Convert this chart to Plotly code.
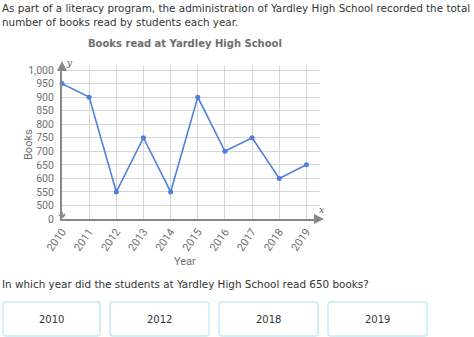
import plotly.graph_objects as go

years = [2010, 2011, 2012, 2013, 2014, 2015, 2016, 2017, 2018, 2019]
books = [950, 900, 550, 750, 550, 900, 700, 750, 600, 650]
ytick_vals = [450, 500, 550, 600, 650, 700, 750, 800, 850, 900, 950, 1000]
ytick_text = ["0", "500", "550", "600", "650", "700", "750", "800", "850", "900", "950", "1,000"]
choices = ["2010", "2012", "2018", "2019"]

W, H = 474, 337
L, R, T, B = 62, 320, 66, 219

def px(x):
    return (x - L) / (R - L)

def py(y):
    return (B - y) / (B - T)

fig = go.Figure()
fig.add_trace(go.Scatter(
    x=years, y=books, mode="lines+markers",
    line=dict(color="#4d7fe0", width=1.6),
    marker=dict(color="#4d7fe0", size=5),
    cliponaxis=False, showlegend=False,
))

gray = "#707070"
fig.update_layout(
    width=W, height=H,
    margin=dict(l=L, r=W - R, t=T, b=H - B, pad=0),
    paper_bgcolor="white", plot_bgcolor="white",
    xaxis=dict(
        range=[2010, 2019.5], tickvals=years, ticktext=[str(y) for y in years],
        tickangle=-55, showgrid=True, gridcolor="#d6d6d6", gridwidth=1,
        showline=True, linecolor="#888888", linewidth=2, zeroline=False,
        ticks="", tickfont=dict(family="Roboto", size=11, color=gray),
        fixedrange=True,
    ),
    yaxis=dict(
        range=[450, 1015], tickvals=ytick_vals, ticktext=ytick_text,
        showgrid=True, gridcolor="#d6d6d6", gridwidth=1,
        showline=True, linecolor="#888888", linewidth=2, zeroline=False,
        ticks="", tickfont=dict(family="Roboto", size=10.5, color=gray),
        ticklabelstandoff=4, fixedrange=True,
    ),
)

ann = []
top_text = ("As part of a literacy program, the administration of Yardley High School recorded the total<br>"
            "number of books read by students each year.")
ann.append(dict(text=top_text, x=px(0), y=py(0), xref="paper", yref="paper", xanchor="left", yanchor="top",
                align="left", showarrow=False, font=dict(family="DejaVu Sans", size=10.4, color="#333333")))
ann.append(dict(text="<b>Books read at Yardley High School</b>", x=px(185), y=py(43), xref="paper", yref="paper",
                xanchor="center", yanchor="middle", showarrow=False,
                font=dict(family="DejaVu Sans", size=10, color="#6e6e6e")))
ann.append(dict(text="Books", x=px(28), y=py(145), xref="paper", yref="paper", textangle=-90,
                xanchor="center", yanchor="middle", showarrow=False,
                font=dict(family="Roboto", size=11, color=gray)))
ann.append(dict(text="Year", x=px(185), y=py(261), xref="paper", yref="paper",
                xanchor="center", yanchor="middle", showarrow=False,
                font=dict(family="Roboto", size=11, color=gray)))
ann.append(dict(text="<i>y</i>", x=px(69), y=py(63), xref="paper", yref="paper",
                xanchor="center", yanchor="middle", showarrow=False,
                font=dict(family="DejaVu Serif", size=9, color="#555555")))
ann.append(dict(text="<i>x</i>", x=px(321), y=py(210), xref="paper", yref="paper",
                xanchor="center", yanchor="middle", showarrow=False,
                font=dict(family="DejaVu Serif", size=9, color="#555555")))
# axis arrows
ann.append(dict(text="", x=px(62), y=py(61), xref="paper", yref="paper", ax=0, ay=8,
                showarrow=True, arrowhead=2, arrowsize=1, arrowwidth=2, arrowcolor="#888888"))
ann.append(dict(text="", x=px(324), y=py(219), xref="paper", yref="paper", ax=-8, ay=0,
                showarrow=True, arrowhead=2, arrowsize=1, arrowwidth=2, arrowcolor="#888888"))
ann.append(dict(text="In which year did the students at Yardley High School read 650 books?",
                x=px(0), y=py(284), xref="paper", yref="paper", xanchor="left", yanchor="middle",
                showarrow=False, font=dict(family="DejaVu Sans", size=10.4, color="#333333")))

shapes = []
# axis break
shapes.append(dict(type="path", xref="paper", yref="paper",
                   path=f"M {px(59)} {py(216)} L {px(62)} {py(213)} L {px(63)} {py(217)} L {px(65)} {py(214)}",
                   line=dict(color="#888888", width=1.5)))

boxes = [(3, 100), (110, 209), (219, 318), (328, 427)]
y0, y1 = 302, 336
r = 3
for (x0, x1), label in zip(boxes, choices):
    path = (f"M {px(x0 + r)} {py(y0)} L {px(x1 - r)} {py(y0)} Q {px(x1)} {py(y0)} {px(x1)} {py(y0 + r)} "
            f"L {px(x1)} {py(y1 - r)} Q {px(x1)} {py(y1)} {px(x1 - r)} {py(y1)} "
            f"L {px(x0 + r)} {py(y1)} Q {px(x0)} {py(y1)} {px(x0)} {py(y1 - r)} "
            f"L {px(x0)} {py(y0 + r)} Q {px(x0)} {py(y0)} {px(x0 + r)} {py(y0)} Z")
    shapes.append(dict(type="path", xref="paper", yref="paper", path=path,
                       line=dict(color="#c6eaf4", width=1.5), fillcolor="white"))
    ann.append(dict(text=label, x=px((x0 + x1) / 2), y=py((y0 + y1) / 2), xref="paper", yref="paper",
                    xanchor="center", yanchor="middle", showarrow=False,
                    font=dict(family="DejaVu Sans", size=10, color="#333333")))

fig.update_layout(annotations=ann, shapes=shapes)
fig.write_html("out.html", config={"displayModeBar": False})
